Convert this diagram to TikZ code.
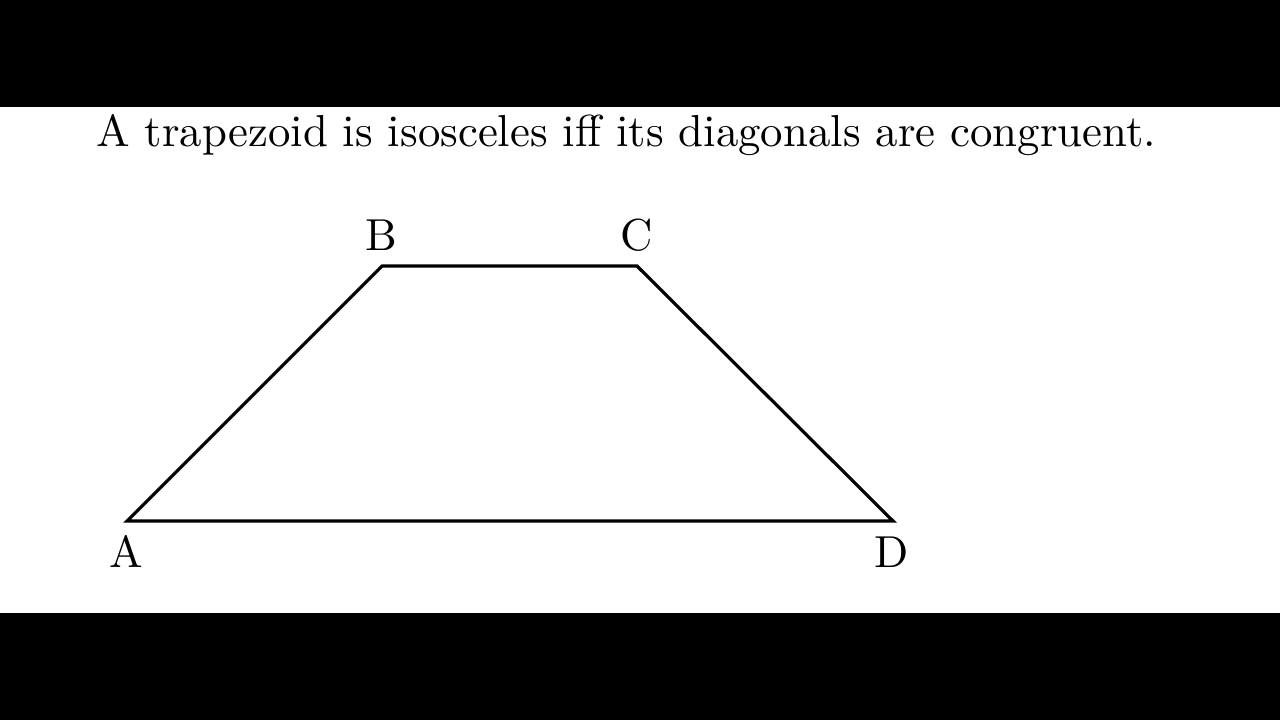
\documentclass[tikz,border=0pt]{standalone}
\usepackage{fontspec}
\setmainfont{lmroman10-regular}[Extension=.otf]
\begin{document}
\begin{tikzpicture}[x=0.5pt,y=-0.5pt,
  lbl/.style={inner sep=0pt,anchor=base,font=\fontsize{22.4}{26}\selectfont},
  edge/.style={line width=1.6pt,line join=miter}]
\useasboundingbox (0,0) rectangle (1280,720);
\fill[black] (0,0) rectangle (1280,107);
\fill[black] (0,613) rectangle (1280,720);
\fill[white] (0,107) rectangle (1280,613);
\node[lbl,anchor=base west] (title) at (96,146) {A trapezoid is isosceles iff its diagonals are congruent.};
\coordinate (A) at (127,521);
\coordinate (B) at (382,266);
\coordinate (C) at (637,266);
\coordinate (D) at (893,521);
\draw[edge] (A) -- (B) -- (C) -- (D) -- cycle;
\node[lbl] (lA) at (126,567) {A};
\node[lbl] (lB) at (381,250) {B};
\node[lbl] (lC) at (637,250) {C};
\node[lbl] (lD) at (892,567) {D};
\end{tikzpicture}
\end{document}
